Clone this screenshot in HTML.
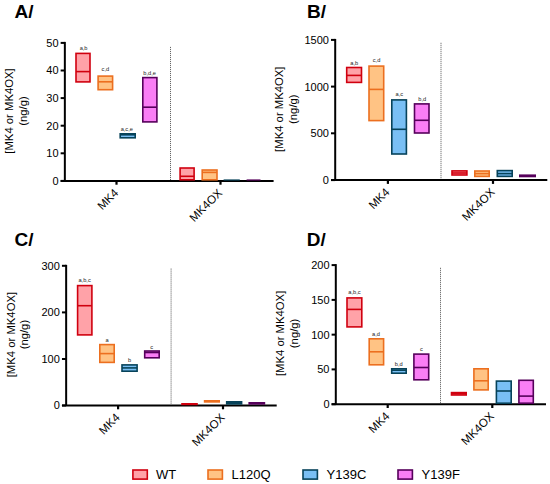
<!DOCTYPE html>
<html><head><meta charset="utf-8"><style>
html,body{margin:0;padding:0;background:#fff;}
svg{display:block;}
text{font-family:'Liberation Sans',sans-serif;}
</style></head><body>
<svg width="550" height="484" viewBox="0 0 550 484">
<rect width="550" height="484" fill="#fff"/>
<text x="14.6" y="18.3" font-size="19" font-weight="bold" fill="#000">A/</text>
<line x1="170.5" y1="46.9" x2="170.5" y2="179.9" stroke="#555" stroke-width="1" stroke-dasharray="1 1"/>
<text transform="translate(13.3 111) rotate(-90)" font-size="11.3" text-anchor="middle" fill="#000">[MK4 or MK4OX]</text>
<text transform="translate(27.3 111) rotate(-90)" font-size="11.3" text-anchor="middle" fill="#000">(ng/g)</text>
<line x1="60.65" y1="42.9" x2="64.85" y2="42.9" stroke="#000" stroke-width="2"/>
<text x="58.55" y="46.8" font-size="11" text-anchor="end" fill="#000">50</text>
<line x1="60.65" y1="70.5" x2="64.85" y2="70.5" stroke="#000" stroke-width="2"/>
<text x="58.55" y="74.4" font-size="11" text-anchor="end" fill="#000">40</text>
<line x1="60.65" y1="98.1" x2="64.85" y2="98.1" stroke="#000" stroke-width="2"/>
<text x="58.55" y="102" font-size="11" text-anchor="end" fill="#000">30</text>
<line x1="60.65" y1="125.7" x2="64.85" y2="125.7" stroke="#000" stroke-width="2"/>
<text x="58.55" y="129.6" font-size="11" text-anchor="end" fill="#000">20</text>
<line x1="60.65" y1="153.3" x2="64.85" y2="153.3" stroke="#000" stroke-width="2"/>
<text x="58.55" y="157.2" font-size="11" text-anchor="end" fill="#000">10</text>
<line x1="60.65" y1="180.9" x2="64.85" y2="180.9" stroke="#000" stroke-width="2"/>
<text x="58.55" y="184.8" font-size="11" text-anchor="end" fill="#000">0</text>
<line x1="116.5" y1="180.9" x2="116.5" y2="184.7" stroke="#000" stroke-width="2.2"/>
<text transform="translate(119 193.7) rotate(-45)" font-size="11.6" text-anchor="end" fill="#000">MK4</text>
<line x1="220.5" y1="180.9" x2="220.5" y2="184.7" stroke="#000" stroke-width="2.2"/>
<text transform="translate(223 193.7) rotate(-45)" font-size="11.6" text-anchor="end" fill="#000">MK4OX</text>
<line x1="64.85" y1="41.9" x2="64.85" y2="180.9" stroke="#000" stroke-width="2"/>
<line x1="60.65" y1="180.9" x2="273.6" y2="180.9" stroke="#000" stroke-width="2"/>
<rect x="76" y="53.4" width="14" height="28.5" fill="#ffa2a8" stroke="#d0000f" stroke-width="1.6"/>
<line x1="76" y1="71.6" x2="90" y2="71.6" stroke="#d0000f" stroke-width="1.6"/>
<rect x="98.1" y="76.1" width="14.5" height="13.6" fill="#ffc384" stroke="#ec6f1f" stroke-width="1.6"/>
<line x1="98.1" y1="81.8" x2="112.6" y2="81.8" stroke="#ec6f1f" stroke-width="1.6"/>
<rect x="120.2" y="133.8" width="15" height="4" fill="#79bff4" stroke="#07435a" stroke-width="1.6"/>
<line x1="120.2" y1="134.8" x2="135.2" y2="134.8" stroke="#07435a" stroke-width="1.6"/>
<rect x="142.8" y="77.6" width="14.1" height="44.3" fill="#fa7ef5" stroke="#56005b" stroke-width="1.6"/>
<line x1="142.8" y1="107.2" x2="156.9" y2="107.2" stroke="#56005b" stroke-width="1.6"/>
<rect x="180.1" y="168" width="14" height="11.8" fill="#ffa2a8" stroke="#d0000f" stroke-width="1.6"/>
<line x1="180.1" y1="176.3" x2="194.1" y2="176.3" stroke="#d0000f" stroke-width="1.6"/>
<rect x="202.2" y="170" width="14.8" height="9.8" fill="#ffc384" stroke="#ec6f1f" stroke-width="1.6"/>
<line x1="202.2" y1="172.4" x2="217" y2="172.4" stroke="#ec6f1f" stroke-width="1.6"/>
<rect x="223.6" y="179.4" width="16.2" height="1.2" fill="#07435a"/>
<rect x="246.6" y="179.4" width="13.9" height="1.2" fill="#56005b"/>
<text x="83.6" y="50.1" font-size="5.7" text-anchor="middle" fill="#222">a,b</text>
<text x="105.4" y="71.2" font-size="5.7" text-anchor="middle" fill="#222">c,d</text>
<text x="126.8" y="130.6" font-size="5.7" text-anchor="middle" fill="#222">a,c,e</text>
<text x="149.6" y="74.7" font-size="5.7" text-anchor="middle" fill="#222">b,d,e</text>
<text x="307" y="18.3" font-size="19" font-weight="bold" fill="#000">B/</text>
<line x1="441" y1="42.8" x2="441" y2="179.1" stroke="#555" stroke-width="1" stroke-dasharray="1 1"/>
<text transform="translate(283 109.2) rotate(-90)" font-size="11.3" text-anchor="middle" fill="#000">[MK4 or MK4OX]</text>
<text transform="translate(296.9 109.2) rotate(-90)" font-size="11.3" text-anchor="middle" fill="#000">(ng/g)</text>
<line x1="331" y1="39.9" x2="335.2" y2="39.9" stroke="#000" stroke-width="2"/>
<text x="328.9" y="43.8" font-size="11" text-anchor="end" fill="#000">1500</text>
<line x1="331" y1="86.6" x2="335.2" y2="86.6" stroke="#000" stroke-width="2"/>
<text x="328.9" y="90.5" font-size="11" text-anchor="end" fill="#000">1000</text>
<line x1="331" y1="133.3" x2="335.2" y2="133.3" stroke="#000" stroke-width="2"/>
<text x="328.9" y="137.2" font-size="11" text-anchor="end" fill="#000">500</text>
<line x1="331" y1="180.1" x2="335.2" y2="180.1" stroke="#000" stroke-width="2"/>
<text x="328.9" y="184" font-size="11" text-anchor="end" fill="#000">0</text>
<line x1="387.9" y1="180.1" x2="387.9" y2="183.9" stroke="#000" stroke-width="2.2"/>
<text transform="translate(390.4 192.9) rotate(-45)" font-size="11.6" text-anchor="end" fill="#000">MK4</text>
<line x1="493" y1="180.1" x2="493" y2="183.9" stroke="#000" stroke-width="2.2"/>
<text transform="translate(495.5 192.9) rotate(-45)" font-size="11.6" text-anchor="end" fill="#000">MK4OX</text>
<line x1="335.2" y1="38.9" x2="335.2" y2="180.1" stroke="#000" stroke-width="2"/>
<line x1="331" y1="180.1" x2="547.3" y2="180.1" stroke="#000" stroke-width="2"/>
<rect x="346.7" y="67.5" width="14.8" height="14.9" fill="#ffa2a8" stroke="#d0000f" stroke-width="1.6"/>
<line x1="346.7" y1="75.4" x2="361.5" y2="75.4" stroke="#d0000f" stroke-width="1.6"/>
<rect x="369" y="66.1" width="14.7" height="54.5" fill="#ffc384" stroke="#ec6f1f" stroke-width="1.6"/>
<line x1="369" y1="89.4" x2="383.7" y2="89.4" stroke="#ec6f1f" stroke-width="1.6"/>
<rect x="391.8" y="99.9" width="14.6" height="54.1" fill="#79bff4" stroke="#07435a" stroke-width="1.6"/>
<line x1="391.8" y1="129.3" x2="406.4" y2="129.3" stroke="#07435a" stroke-width="1.6"/>
<rect x="414.5" y="103.9" width="14.5" height="29.1" fill="#fa7ef5" stroke="#56005b" stroke-width="1.6"/>
<line x1="414.5" y1="120.3" x2="429" y2="120.3" stroke="#56005b" stroke-width="1.6"/>
<rect x="452" y="170.9" width="14.9" height="4.1" fill="#ffa2a8" stroke="#d0000f" stroke-width="1.6"/>
<line x1="452" y1="173" x2="466.9" y2="173" stroke="#d0000f" stroke-width="1.6"/>
<rect x="474.8" y="171" width="14.4" height="5.4" fill="#ffc384" stroke="#ec6f1f" stroke-width="1.6"/>
<line x1="474.8" y1="173.6" x2="489.2" y2="173.6" stroke="#ec6f1f" stroke-width="1.6"/>
<rect x="497.3" y="170.6" width="14.9" height="5.8" fill="#79bff4" stroke="#07435a" stroke-width="1.6"/>
<line x1="497.3" y1="173.6" x2="512.2" y2="173.6" stroke="#07435a" stroke-width="1.6"/>
<rect x="519" y="174.4" width="17" height="2.9" fill="#56005b"/>
<text x="354.2" y="64.6" font-size="5.7" text-anchor="middle" fill="#222">a,b</text>
<text x="376.5" y="62.4" font-size="5.7" text-anchor="middle" fill="#222">c,d</text>
<text x="399.3" y="95.8" font-size="5.7" text-anchor="middle" fill="#222">a,c</text>
<text x="422.2" y="101.2" font-size="5.7" text-anchor="middle" fill="#222">b,d</text>
<text x="14.5" y="246" font-size="19" font-weight="bold" fill="#000">C/</text>
<line x1="171.1" y1="268.6" x2="171.1" y2="404.5" stroke="#555" stroke-width="1" stroke-dasharray="1 1"/>
<text transform="translate(14.5 334.6) rotate(-90)" font-size="11.3" text-anchor="middle" fill="#000">[MK4 or MK4OX]</text>
<text transform="translate(28 334.6) rotate(-90)" font-size="11.3" text-anchor="middle" fill="#000">(ng/g)</text>
<line x1="61.95" y1="265.8" x2="66.15" y2="265.8" stroke="#000" stroke-width="2"/>
<text x="59.85" y="269.7" font-size="11" text-anchor="end" fill="#000">300</text>
<line x1="61.95" y1="312.4" x2="66.15" y2="312.4" stroke="#000" stroke-width="2"/>
<text x="59.85" y="316.3" font-size="11" text-anchor="end" fill="#000">200</text>
<line x1="61.95" y1="359" x2="66.15" y2="359" stroke="#000" stroke-width="2"/>
<text x="59.85" y="362.9" font-size="11" text-anchor="end" fill="#000">100</text>
<line x1="61.95" y1="405.5" x2="66.15" y2="405.5" stroke="#000" stroke-width="2"/>
<text x="59.85" y="409.4" font-size="11" text-anchor="end" fill="#000">0</text>
<line x1="118.1" y1="405.5" x2="118.1" y2="409.3" stroke="#000" stroke-width="2.2"/>
<text transform="translate(120.6 418.3) rotate(-45)" font-size="11.6" text-anchor="end" fill="#000">MK4</text>
<line x1="223" y1="405.5" x2="223" y2="409.3" stroke="#000" stroke-width="2.2"/>
<text transform="translate(225.5 418.3) rotate(-45)" font-size="11.6" text-anchor="end" fill="#000">MK4OX</text>
<line x1="66.15" y1="264.8" x2="66.15" y2="405.5" stroke="#000" stroke-width="2"/>
<line x1="61.95" y1="405.5" x2="276.7" y2="405.5" stroke="#000" stroke-width="2"/>
<rect x="77.6" y="285.6" width="14.3" height="49.3" fill="#ffa2a8" stroke="#d0000f" stroke-width="1.6"/>
<line x1="77.6" y1="305.7" x2="91.9" y2="305.7" stroke="#d0000f" stroke-width="1.6"/>
<rect x="99.8" y="344.6" width="14.4" height="17.8" fill="#ffc384" stroke="#ec6f1f" stroke-width="1.6"/>
<line x1="99.8" y1="353.6" x2="114.2" y2="353.6" stroke="#ec6f1f" stroke-width="1.6"/>
<rect x="122" y="364.9" width="15.1" height="6.3" fill="#79bff4" stroke="#07435a" stroke-width="1.6"/>
<line x1="122" y1="367.9" x2="137.1" y2="367.9" stroke="#07435a" stroke-width="1.6"/>
<rect x="144.7" y="351" width="14.5" height="6.8" fill="#fa7ef5" stroke="#56005b" stroke-width="1.6"/>
<line x1="144.7" y1="352.5" x2="159.2" y2="352.5" stroke="#56005b" stroke-width="1.6"/>
<rect x="181.2" y="403" width="16.6" height="2.2" fill="#d0000f"/>
<rect x="203.8" y="400" width="16.2" height="2.7" fill="#ec6f1f"/>
<rect x="225.9" y="401" width="16.5" height="3.7" fill="#07435a"/>
<rect x="248.4" y="402" width="16.8" height="2.7" fill="#56005b"/>
<text x="84.6" y="282" font-size="5.7" text-anchor="middle" fill="#222">a,b,c</text>
<text x="107.2" y="341.6" font-size="5.7" text-anchor="middle" fill="#222">a</text>
<text x="129.5" y="361.8" font-size="5.7" text-anchor="middle" fill="#222">b</text>
<text x="151.6" y="348.6" font-size="5.7" text-anchor="middle" fill="#222">c</text>
<text x="306.7" y="246.1" font-size="19" font-weight="bold" fill="#000">D/</text>
<line x1="440.5" y1="267.8" x2="440.5" y2="403.2" stroke="#555" stroke-width="1" stroke-dasharray="1 1"/>
<text transform="translate(284 333.4) rotate(-90)" font-size="11.3" text-anchor="middle" fill="#000">[MK4 or MK4OX]</text>
<text transform="translate(298 333.4) rotate(-90)" font-size="11.3" text-anchor="middle" fill="#000">(ng/g)</text>
<line x1="331.6" y1="265.1" x2="335.8" y2="265.1" stroke="#000" stroke-width="2"/>
<text x="329.5" y="269" font-size="11" text-anchor="end" fill="#000">200</text>
<line x1="331.6" y1="299.9" x2="335.8" y2="299.9" stroke="#000" stroke-width="2"/>
<text x="329.5" y="303.8" font-size="11" text-anchor="end" fill="#000">150</text>
<line x1="331.6" y1="334.65" x2="335.8" y2="334.65" stroke="#000" stroke-width="2"/>
<text x="329.5" y="338.55" font-size="11" text-anchor="end" fill="#000">100</text>
<line x1="331.6" y1="369.4" x2="335.8" y2="369.4" stroke="#000" stroke-width="2"/>
<text x="329.5" y="373.3" font-size="11" text-anchor="end" fill="#000">50</text>
<line x1="331.6" y1="404.2" x2="335.8" y2="404.2" stroke="#000" stroke-width="2"/>
<text x="329.5" y="408.1" font-size="11" text-anchor="end" fill="#000">0</text>
<line x1="387.7" y1="404.2" x2="387.7" y2="408" stroke="#000" stroke-width="2.2"/>
<text transform="translate(390.2 417) rotate(-45)" font-size="11.6" text-anchor="end" fill="#000">MK4</text>
<line x1="492.3" y1="404.2" x2="492.3" y2="408" stroke="#000" stroke-width="2.2"/>
<text transform="translate(494.8 417) rotate(-45)" font-size="11.6" text-anchor="end" fill="#000">MK4OX</text>
<line x1="335.8" y1="264.1" x2="335.8" y2="404.2" stroke="#000" stroke-width="2"/>
<line x1="331.6" y1="404.2" x2="546" y2="404.2" stroke="#000" stroke-width="2"/>
<rect x="347" y="297.9" width="14.8" height="29" fill="#ffa2a8" stroke="#d0000f" stroke-width="1.6"/>
<line x1="347" y1="309.4" x2="361.8" y2="309.4" stroke="#d0000f" stroke-width="1.6"/>
<rect x="369.2" y="338.8" width="14.4" height="26" fill="#ffc384" stroke="#ec6f1f" stroke-width="1.6"/>
<line x1="369.2" y1="351.8" x2="383.6" y2="351.8" stroke="#ec6f1f" stroke-width="1.6"/>
<rect x="391.7" y="368.8" width="14.5" height="4.4" fill="#79bff4" stroke="#07435a" stroke-width="1.6"/>
<line x1="391.7" y1="370.2" x2="406.2" y2="370.2" stroke="#07435a" stroke-width="1.6"/>
<rect x="413.9" y="354.1" width="14.8" height="25.7" fill="#fa7ef5" stroke="#56005b" stroke-width="1.6"/>
<line x1="413.9" y1="367.5" x2="428.7" y2="367.5" stroke="#56005b" stroke-width="1.6"/>
<rect x="451.5" y="392.6" width="14.7" height="2.4" fill="#ffa2a8" stroke="#d0000f" stroke-width="1.6"/>
<line x1="451.5" y1="393.8" x2="466.2" y2="393.8" stroke="#d0000f" stroke-width="1.6"/>
<rect x="473.9" y="368.8" width="14.3" height="21.1" fill="#ffc384" stroke="#ec6f1f" stroke-width="1.6"/>
<line x1="473.9" y1="380.8" x2="488.2" y2="380.8" stroke="#ec6f1f" stroke-width="1.6"/>
<rect x="496.4" y="381.1" width="14.8" height="22.1" fill="#79bff4" stroke="#07435a" stroke-width="1.6"/>
<line x1="496.4" y1="391" x2="511.2" y2="391" stroke="#07435a" stroke-width="1.6"/>
<rect x="518.9" y="380.3" width="14.4" height="22.9" fill="#fa7ef5" stroke="#56005b" stroke-width="1.6"/>
<line x1="518.9" y1="396.1" x2="533.3" y2="396.1" stroke="#56005b" stroke-width="1.6"/>
<text x="354.5" y="294.3" font-size="5.7" text-anchor="middle" fill="#222">a,b,c</text>
<text x="376" y="336.4" font-size="5.7" text-anchor="middle" fill="#222">a,d</text>
<text x="398.7" y="366.1" font-size="5.7" text-anchor="middle" fill="#222">b,d</text>
<text x="421.4" y="351.1" font-size="5.7" text-anchor="middle" fill="#222">c</text>
<rect x="132.9" y="470" width="14.4" height="9.1" fill="#ffa2a8" stroke="#d0000f" stroke-width="1.6"/>
<text x="156.1" y="479.3" font-size="13" fill="#000">WT</text>
<rect x="208" y="470" width="14.4" height="9.1" fill="#ffc384" stroke="#ec6f1f" stroke-width="1.6"/>
<text x="231.6" y="479.3" font-size="13" fill="#000">L120Q</text>
<rect x="303" y="470" width="14.4" height="9.1" fill="#79bff4" stroke="#07435a" stroke-width="1.6"/>
<text x="326.6" y="479.3" font-size="13" fill="#000">Y139C</text>
<rect x="398" y="470" width="14.4" height="9.1" fill="#fa7ef5" stroke="#56005b" stroke-width="1.6"/>
<text x="421.6" y="479.3" font-size="13" fill="#000">Y139F</text>
</svg>
</body></html>
